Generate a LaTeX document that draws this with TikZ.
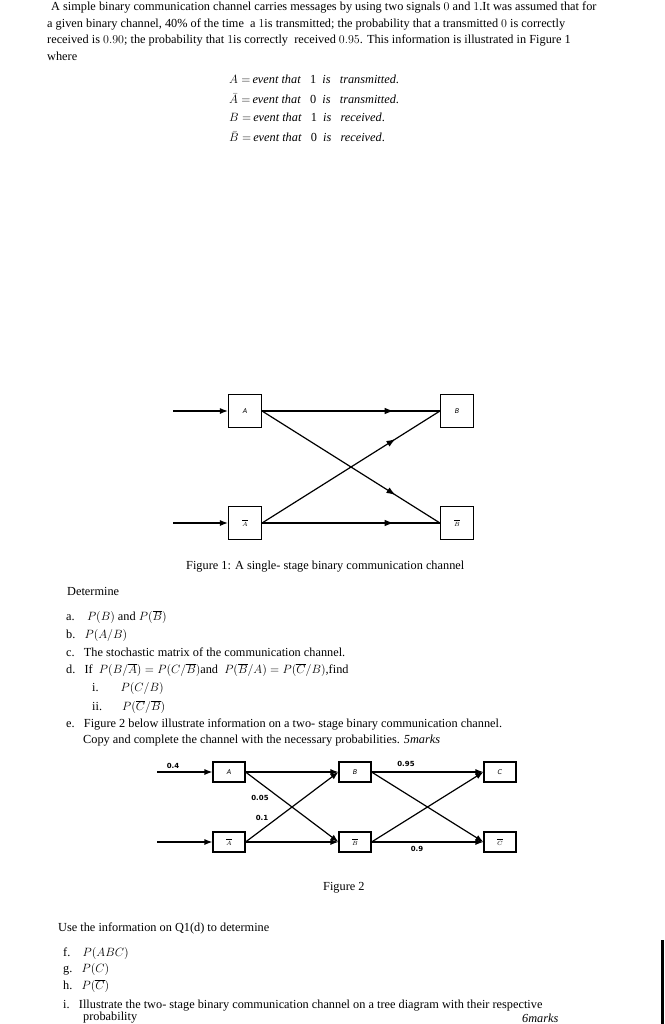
\documentclass[tikz,border=0pt]{standalone}
\usepackage{fontspec}
\setmainfont{Liberation Serif}
\setsansfont{DejaVu Sans}
\usetikzlibrary{decorations.markings,arrows.meta}
\newcommand{\ob}[1]{\overline{#1}}
\begin{document}
\begin{tikzpicture}[x=1pt,y=-1pt,
 txt/.style={anchor=west,inner sep=0pt,font=\fontsize{12.3}{14}\selectfont},
 bx/.style={draw,line width=1.1pt,minimum width=33pt,minimum height=33pt,inner sep=0pt,font=\sffamily\fontsize{6.5}{7}\selectfont\itshape},
 bxs/.style={draw,line width=1.1pt,minimum width=32pt,minimum height=20pt,inner sep=0pt,font=\sffamily\fontsize{6.5}{7}\selectfont\itshape},
 ln/.style={line width=1.2pt},
 mid/.style={ln,postaction={decorate},decoration={markings,mark=at position #1 with {\arrow{Latex[length=9pt,width=6.5pt]}}}},
 ar/.style={ln,-{Latex[length=8pt,width=6pt]}},
 lab/.style={font=\sffamily\bfseries\fontsize{7}{8}\selectfont,inner sep=0pt}]
\useasboundingbox (0,0) rectangle (664,1024);
\fill[white] (0,0) rectangle (664,1024);
\fill[black] (661,940) rectangle (664,1024);
% text
\node[txt] (p1) at (51,8) {A simple binary communication channel carries messages by using two signals $0$ and $1$.It was assumed that for};
\node[txt] (p2) at (47,25) {a given binary channel, 40\% of the time\ \ a $1$is transmitted; the probability that a transmitted $0$ is correctly};
\node[txt] (p3) at (47,41) {received is $0.90$; the probability that $1$is correctly\ \ received $0.95$. This information is illustrated in Figure 1};
\node[txt] (p4) at (47,56) {where};
\node[txt] (d1) at (229,79) {$A=$\,\textit{event that}\ \ \ 1\ \ \textit{is}\ \ \ \textit{transmitted}.};
\node[txt] (d2) at (229,99) {$\bar A=$\,\textit{event that}\ \ \ 0\ \ \textit{is}\ \ \ \textit{transmitted}.};
\node[txt] (d3) at (229,117) {$B=$\,\textit{event that}\ \ \ 1\ \ \textit{is}\ \ \ \textit{received}.};
\node[txt] (d4) at (229,137) {$\bar B=$\,\textit{event that}\ \ \ 0\ \ \textit{is}\ \ \ \textit{received}.};
% figure 1
\node[bx] (A) at (245,411) {A};
\node[bx] (B) at (457,411) {B};
\node[bx] (Ab) at (245,523) {$\ob{A}$};
\node[bx] (Bb) at (457,523) {$\ob{B}$};
\coordinate (s1) at (173,411);
\coordinate (s2) at (173,523);
\draw[ar] (s1) -- (A);
\draw[ar] (s2) -- (Ab);
\draw[mid=0.74] (A.east) -- (B.west);
\draw[mid=0.74] (Ab.east) -- (Bb.west);
\draw[mid=0.75] (A.east) -- (Bb.west);
\draw[mid=0.75] (Ab.east) -- (B.west);
\node[txt] (f1) at (186,567) {Figure 1: A single- stage binary communication channel};
% questions
\node[txt] (q0) at (67,591) {Determine};
\node[txt] (qa) at (66,617) {a.\ \ \ \ $P(B)$ and $P(\ob{B})$};
\node[txt] (qb) at (66,635) {b.\ \ \ $P(A/B)$};
\node[txt] (qc) at (66,652) {c.\ \ \ The stochastic matrix of the communication channel.};
\node[txt] (qd) at (66,670) {d.\ \ \ If\ \ $P(B/\ob{A})=P(C/\ob{B})$and\ \ $P(\ob{B}/A)=P(\ob{C}/B)$,find};
\node[txt] (qi) at (92,688) {i.\hspace{22pt}$P(C/B)$};
\node[txt] (qii) at (92,707) {ii.\hspace{20pt}$P(\ob{C}/\ob{B})$};
\node[txt] (qe) at (66,724) {e.\ \ \ Figure 2 below illustrate information on a two- stage binary communication channel.};
\node[txt] (qe2) at (83,741) {Copy and complete the channel with the necessary probabilities. \textit{5marks}};
% figure 2
\node[bxs] (A2) at (229,772) {A};
\node[bxs] (B2) at (355,772) {B};
\node[bxs] (C2) at (500,772) {C};
\node[bxs] (Ab2) at (229,842) {$\ob{A}$};
\node[bxs] (Bb2) at (355,842) {$\ob{B}$};
\node[bxs] (Cb2) at (500,842) {$\ob{C}$};
\coordinate (t1) at (157,772);
\coordinate (t2) at (157,842);
\draw[ar] (t1) -- (A2);
\draw[ar] (t2) -- (Ab2);
\draw[ar] (A2.east) -- (B2.west);
\draw[ar] (A2.east) -- (Bb2.west);
\draw[ar] (Ab2.east) -- (B2.west);
\draw[ar] (Ab2.east) -- (Bb2.west);
\draw[ar] (B2.east) -- (C2.west);
\draw[ar] (B2.east) -- (Cb2.west);
\draw[ar] (Bb2.east) -- (C2.west);
\draw[ar] (Bb2.east) -- (Cb2.west);
\node[lab] (l1) at (173,766) {0.4};
\node[lab] (l2) at (260,798) {0.05};
\node[lab] (l3) at (262,818) {0.1};
\node[lab] (l4) at (406,764) {0.95};
\node[lab] (l5) at (417,849) {0.9};
\node[txt] (f2) at (323,888) {Figure 2};
% more questions
\node[txt] (u0) at (58,928) {Use the information on Q1(d) to determine};
\node[txt] (qf) at (63,953) {f.\ \ \ \ $P(ABC)$};
\node[txt] (qg) at (63,969) {g.\ \ \ $P(C)$};
\node[txt] (qh) at (63,986) {h.\ \ \ $P(\ob{C})$};
\node[txt] (qi2) at (63,1006) {i.\ \ \ Illustrate the two- stage binary communication channel on a tree diagram with their respective};
\node[txt] (qi3) at (83,1018) {probability};
\node[txt] (qi4) at (522,1018) {\textit{6marks}};
\end{tikzpicture}
\end{document}
